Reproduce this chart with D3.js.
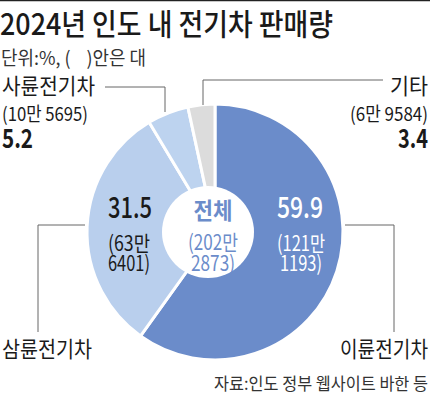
<!DOCTYPE html>
<html>
<head>
<meta charset="utf-8">
<script src="https://cdn.jsdelivr.net/npm/d3@7"></script>
<style>
  body { margin: 0; background: #fff; }
  svg text { font-family: "Noto Sans CJK KR", "Noto Sans", sans-serif; white-space: pre; }
</style>
</head>
<body>
<div id="chart"></div>
<script>
// chart values
const categories = ['이륜전기차', '삼륜전기차', '사륜전기차', '기타'];
const shares = [59.9, 31.5, 5.2, 3.4];
const counts = ['121만 1193', '63만 6401', '10만 5695', '6만 9584'];
const totalLabel = '전체';
const totalCount = ['(202만', '2873)'];
const colors = ['#6b8cca', '#b9cfed', '#bdd3ef', '#dcdcdc'];

const width = 434, height = 394;
const cx = 215, cy = 232, r = 128;
const right = 428;

const svg = d3.select('#chart').append('svg')
  .attr('width', width)
  .attr('height', height);

// little helper for squeezed text, the original uses a narrow gothic font
function label(x, y, str, size, opts) {
  opts = opts || {};
  let t = svg.append('text')
    .attr('x', x)
    .attr('y', y)
    .attr('font-size', size)
    .attr('font-weight', opts.weight || 400)
    .attr('fill', opts.fill || '#1a1a1a')
    .attr('text-anchor', opts.anchor || 'start')
    .text(str);
  if (opts.len) t.attr('textLength', opts.len).attr('lengthAdjust', 'spacingAndGlyphs');
  return t;
}

// right aligned: start at right edge minus the squeezed width
function labelRight(xr, y, str, size, len, opts) {
  return label(xr - len, y, str, size, Object.assign({}, opts, { len: len }));
}

// two line label in one text element
function stacked(x, y, rows, size, lens, fill, dy) {
  let t = svg.append('text')
    .attr('font-size', size)
    .attr('fill', fill)
    .attr('text-anchor', 'start');
  rows.forEach((row, i) => {
    t.append('tspan')
      .attr('x', x[i])
      .attr('y', y + i * dy)
      .attr('textLength', lens[i])
      .attr('lengthAdjust', 'spacingAndGlyphs')
      .text(row);
  });
  return t;
}

// top rule
svg.append('line')
  .attr('x1', 0).attr('x2', 430)
  .attr('y1', 0.5).attr('y2', 0.5)
  .attr('stroke', '#222').attr('stroke-width', 1.5);

label(0, 35, '2024년 인도 내 전기차 판매량', 30, { weight: 500, len: 333 });
label(1, 65, '단위:%, (    )안은 대', 19, { len: 145, fill: '#333' });

// pie
const pie = d3.pie().sort(null).value(d => d)(shares);
const arc = d3.arc().innerRadius(0).outerRadius(r);

svg.append('g')
  .attr('transform', `translate(${cx},${cy})`)
  .selectAll('path')
  .data(pie)
  .join('path')
  .attr('d', arc)
  .attr('fill', (d, i) => colors[i])
  .attr('stroke', '#fff')
  .attr('stroke-width', 3)
  .attr('stroke-linejoin', 'round');

// white hole in the middle
svg.append('circle')
  .attr('cx', 208).attr('cy', cy)
  .attr('r', 46)
  .attr('fill', '#fff');

label(213, 219, totalLabel, 23, { weight: 700, fill: colors[0], anchor: 'middle', len: 39 });
stacked([188, 191], 250, totalCount, 21, [50, 44], colors[0], 21);

// inside labels for the two big slices
const fmt = d3.format('.1f');
const split = s => s.split(' ');

label(108, 218, fmt(shares[1]), 29, { weight: 500, len: 44 });
stacked([108, 108], 251, ['(' + split(counts[1])[0], split(counts[1])[1] + ')'], 21, [42, 42], '#1a1a1a', 20);

label(277, 218, fmt(shares[0]), 29, { weight: 500, fill: '#fff', len: 46 });
stacked([277, 280], 251, ['(' + split(counts[0])[0], split(counts[0])[1] + ')'], 21, [48, 42], '#fff', 20);

// leader lines
const lines = [
  [[85, 225], [38, 225], [38, 332]],
  [[345, 225], [394, 225], [394, 332]],
  [[105, 87], [165, 87], [165, 112]],
  [[383, 80], [203, 80], [203, 105]]
];
svg.selectAll('.leader')
  .data(lines)
  .join('path')
  .attr('class', 'leader')
  .attr('d', d3.line())
  .attr('fill', 'none')
  .attr('stroke', '#666')
  .attr('stroke-width', 1);

// outside category labels
label(2, 357, categories[1], 22, { len: 90 });
labelRight(right, 357, categories[0], 22, 88);

label(2, 94, categories[2], 22, { len: 93 });
label(2, 121, '(' + counts[2] + ')', 19, { len: 86 });
label(2, 148, fmt(shares[2]), 26, { weight: 700, len: 31 });

labelRight(right, 94, categories[3], 22, 38);
labelRight(right, 121, '(' + counts[3] + ')', 19, 78);
labelRight(right, 148, fmt(shares[3]), 26, 30, { weight: 700 });

labelRight(right, 390, '자료:인도 정부 웹사이트 바한 등', 17, 214, { fill: '#333' });
</script>
</body>
</html>
